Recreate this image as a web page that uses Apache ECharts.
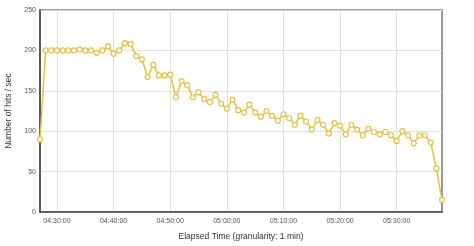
<!DOCTYPE html>
<html>
<head>
<meta charset="utf-8">
<style>html,body{margin:0;padding:0;background:#fff;}#c{width:474px;height:246px;}</style>
<script src="https://cdn.jsdelivr.net/npm/echarts@6/dist/echarts.min.js"></script>
</head>
<body>
<div id="c"></div>
<script>
var times = [
"04:27:00","04:28:00","04:29:00","04:30:00","04:31:00","04:32:00","04:33:00","04:34:00","04:35:00","04:36:00",
"04:37:00","04:38:00","04:39:00","04:40:00","04:41:00","04:42:00","04:43:00","04:44:00","04:45:00","04:46:00",
"04:47:00","04:48:00","04:49:00","04:50:00","04:51:00","04:52:00","04:53:00","04:54:00","04:55:00","04:56:00",
"04:57:00","04:58:00","04:59:00","05:00:00","05:01:00","05:02:00","05:03:00","05:04:00","05:05:00","05:06:00",
"05:07:00","05:08:00","05:09:00","05:10:00","05:11:00","05:12:00","05:13:00","05:14:00","05:15:00","05:16:00",
"05:17:00","05:18:00","05:19:00","05:20:00","05:21:00","05:22:00","05:23:00","05:24:00","05:25:00","05:26:00",
"05:27:00","05:28:00","05:29:00","05:30:00","05:31:00","05:32:00","05:33:00","05:34:00","05:35:00","05:36:00",
"05:37:00","05:38:00"
];
var hits = [
90,200,200,200,200,200,200,201,200,200,
197,200,205,196,200,209,208,193,189,167,
182,169,169,170,142,162,157,142,148,140,
136,145,134,128,139,126,123,133,123,118,
125,119,113,121,116,108,119,112,102,114,
108,97,110,107,96,108,102,95,103,99,
96,99,95,88,100,95,85,95,95,86,
54,15
];
var tickLabels = ["04:30:00","04:40:00","04:50:00","05:00:00","05:10:00","05:20:00","05:30:00"];
var yTicks = [0,50,100,150,200,250];

function isTick(idx){ return tickLabels.indexOf(times[idx]) >= 0; }

var chart = echarts.init(document.getElementById('c'));
chart.setOption({
  animation: false,
  grid: {left: 40, right: 32, top: 10, bottom: 34, show: true, borderColor: '#777', borderWidth: 1.5, backgroundColor: '#fff', outerBoundsMode: 'none', containLabel: false},
  xAxis: {
    type: 'category',
    data: times,
    boundaryGap: false,
    name: 'Elapsed Time (granularity: 1 min)',
    nameLocation: 'middle',
    nameGap: 20,
    nameTextStyle: {fontFamily: 'Liberation Sans', fontSize: 8.5, color: '#333'},
    axisLine: {lineStyle: {color: '#444', width: 1.5}},
    axisTick: {show: false},
    axisLabel: {interval: function(i){return isTick(i);}, fontFamily: 'Liberation Sans', fontSize: 7, color: '#555', margin: 6},
    splitLine: {show: true, interval: function(i){return isTick(i);}, lineStyle: {color: '#e0e0e0', width: 1}}
  },
  yAxis: {
    type: 'value',
    min: yTicks[0],
    max: yTicks[yTicks.length-1],
    interval: 50,
    name: 'Number of hits / sec',
    nameLocation: 'middle',
    nameGap: 27,
    nameTextStyle: {fontFamily: 'Liberation Sans', fontSize: 8.5, color: '#333'},
    axisLine: {show: true, lineStyle: {color: '#444', width: 1.5}},
    axisTick: {show: false},
    axisLabel: {fontFamily: 'Liberation Sans', fontSize: 7, color: '#555', margin: 4},
    splitLine: {show: true, lineStyle: {color: '#e0e0e0', width: 1}}
  },
  series: [{
    type: 'line',
    data: hits,
    symbol: 'circle',
    symbolSize: 5,
    showAllSymbol: true,
    lineStyle: {color: '#e4c244', width: 1.5},
    itemStyle: {color: '#fff', borderColor: '#e4c244', borderWidth: 1.2}
  }]
});
</script>
</body>
</html>
